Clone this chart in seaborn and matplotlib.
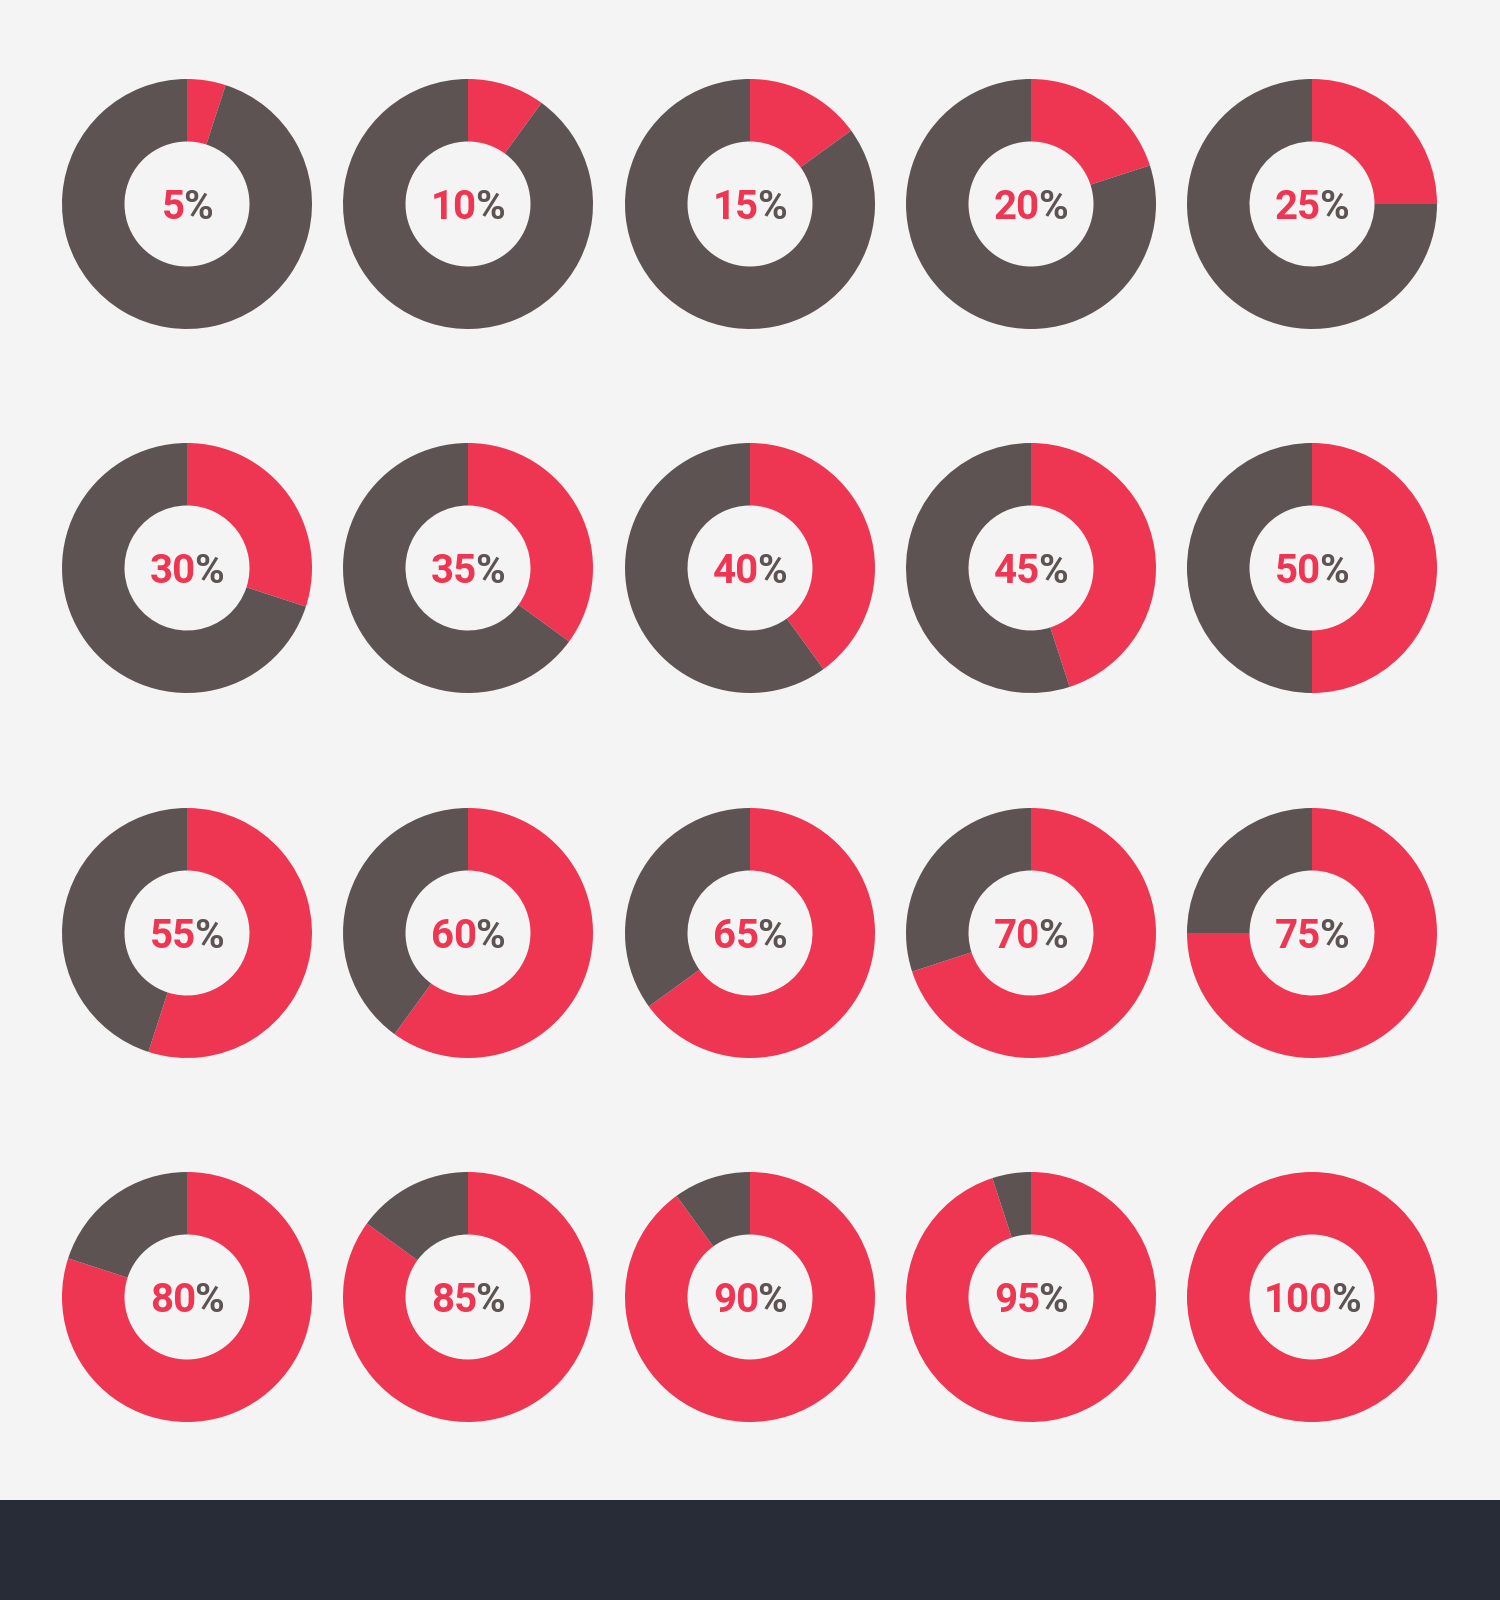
import matplotlib.pyplot as plt
import seaborn as sns
from matplotlib.offsetbox import TextArea, HPacker, AnchoredOffsetbox

# data
percents = [5, 10, 15, 20, 25, 30, 35, 40, 45, 50,
            55, 60, 65, 70, 75, 80, 85, 90, 95, 100]
n_cols = 5

red = "#EE3552"
grey = "#5E5353"
bg = "#F4F4F4"
footer = "#282C37"

sns.set_theme(style="white")
plt.rcParams["font.family"] = ["Roboto", "DejaVu Sans"]

W, H = 1500, 1600
fig = plt.figure(figsize=(W / 100, H / 100), dpi=100, facecolor=bg)

# dark band at the bottom
band = fig.add_axes([0, 0, 1, 100 / H])
band.set_facecolor(footer)
band.set_xticks([])
band.set_yticks([])
for s in band.spines.values():
    s.set_visible(False)

# donut grid (pixel positions)
cx = [187, 468, 750, 1031, 1312]
cy = [204, 568, 933, 1297]
r = 125

for i, p in enumerate(percents):
    row, col = divmod(i, n_cols)
    x0, y0 = cx[col], cy[row]
    ax = fig.add_axes([(x0 - r) / W, (H - y0 - r) / H, 2 * r / W, 2 * r / H])
    ax.set_facecolor("none")
    vals = [p, 100 - p] if p < 100 else [100]
    cols = [red, grey] if p < 100 else [red]
    ax.pie(vals, colors=cols, startangle=90, counterclock=False, radius=1,
           wedgeprops=dict(width=0.5, linewidth=0))
    ax.set_xlim(-1, 1)
    ax.set_ylim(-1, 1)
    ax.set_aspect("equal")

    num = TextArea(str(p), textprops=dict(color=red, fontsize=29, fontweight="bold"))
    pct = TextArea("%", textprops=dict(color=grey, fontsize=29, fontweight="bold"))
    box = HPacker(children=[num, pct], align="baseline", pad=0, sep=-1.5)
    ab = AnchoredOffsetbox(loc="center", child=box, frameon=False,
                           bbox_to_anchor=(0.5, 0.485), bbox_transform=ax.transAxes,
                           borderpad=0, pad=0)
    ax.add_artist(ab)

fig.savefig("out.png", dpi=100, facecolor=bg)
